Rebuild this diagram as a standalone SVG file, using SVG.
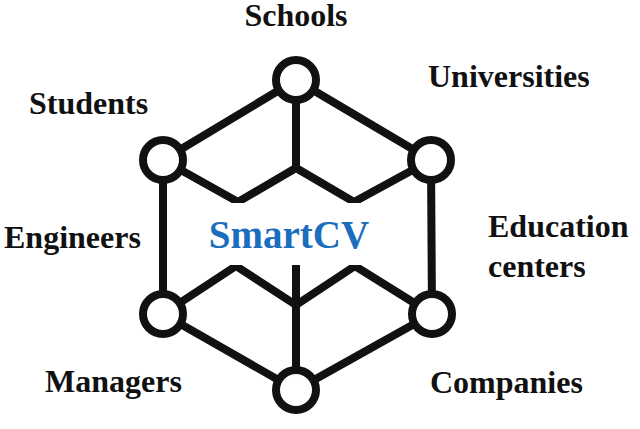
<svg xmlns="http://www.w3.org/2000/svg" width="640" height="429" viewBox="0 0 640 429">
  <style>
    .lbl { font-family: "Liberation Serif", "Times New Roman", serif; font-weight: bold; font-size: 32px; fill: #111; }
    .title { font-family: "Liberation Serif", "Times New Roman", serif; font-weight: bold; font-size: 39px; fill: #1b6dbd; }
    .edge { stroke: #111; stroke-width: 8; fill: none; stroke-linejoin: miter; }
    .node { stroke: #111; stroke-width: 8; fill: #fff; }
  </style>
  <defs>
    <clipPath id="gap">
      <path clip-rule="evenodd" d="M0 0H640V429H0Z M175 203H420V265H175Z"/>
    </clipPath>
  </defs>
  <rect width="640" height="429" fill="#fff"/>
  <g id="connectors" clip-path="url(#gap)">
    <line class="edge" x1="296" y1="80" x2="163" y2="160"/>
    <line class="edge" x1="296" y1="80" x2="431" y2="160"/>
    <line class="edge" x1="296" y1="80" x2="296" y2="168"/>
    <polyline class="edge" points="163,160 238,202 296,168 354,202 431,160"/>
    <line class="edge" x1="163" y1="160" x2="163" y2="314"/>
    <line class="edge" x1="431" y1="160" x2="432" y2="314"/>
    <polyline class="edge" points="163,314 236,266 296,305 355,266 432,314"/>
    <line class="edge" x1="296" y1="265" x2="296" y2="390"/>
    <line class="edge" x1="163" y1="314" x2="296" y2="390"/>
    <line class="edge" x1="432" y1="314" x2="296" y2="390"/>
  </g>
  <g id="node-schools"><circle class="node" cx="296" cy="80" r="20"/><text class="lbl" x="296" y="26" text-anchor="middle">Schools</text></g>
  <g id="node-students"><circle class="node" cx="163" cy="160" r="20"/><text class="lbl" x="29" y="114">Students</text></g>
  <g id="node-universities"><circle class="node" cx="431" cy="160" r="20"/><text class="lbl" x="428" y="87">Universities</text></g>
  <g id="node-engineers"><text class="lbl" x="4" y="248">Engineers</text></g>
  <g id="node-education"><text class="lbl" x="488" y="237">Education</text><text class="lbl" x="488" y="277">centers</text></g>
  <g id="node-managers"><circle class="node" cx="163" cy="314" r="20"/><text class="lbl" x="45" y="392">Managers</text></g>
  <g id="node-companies"><circle class="node" cx="432" cy="314" r="20"/><text class="lbl" x="430" y="393">Companies</text></g>
  <g id="node-bottom"><circle class="node" cx="296" cy="390" r="20"/></g>
  <g id="node-smartcv"><text class="title" x="289" y="248" text-anchor="middle">SmartCV</text></g>
</svg>
